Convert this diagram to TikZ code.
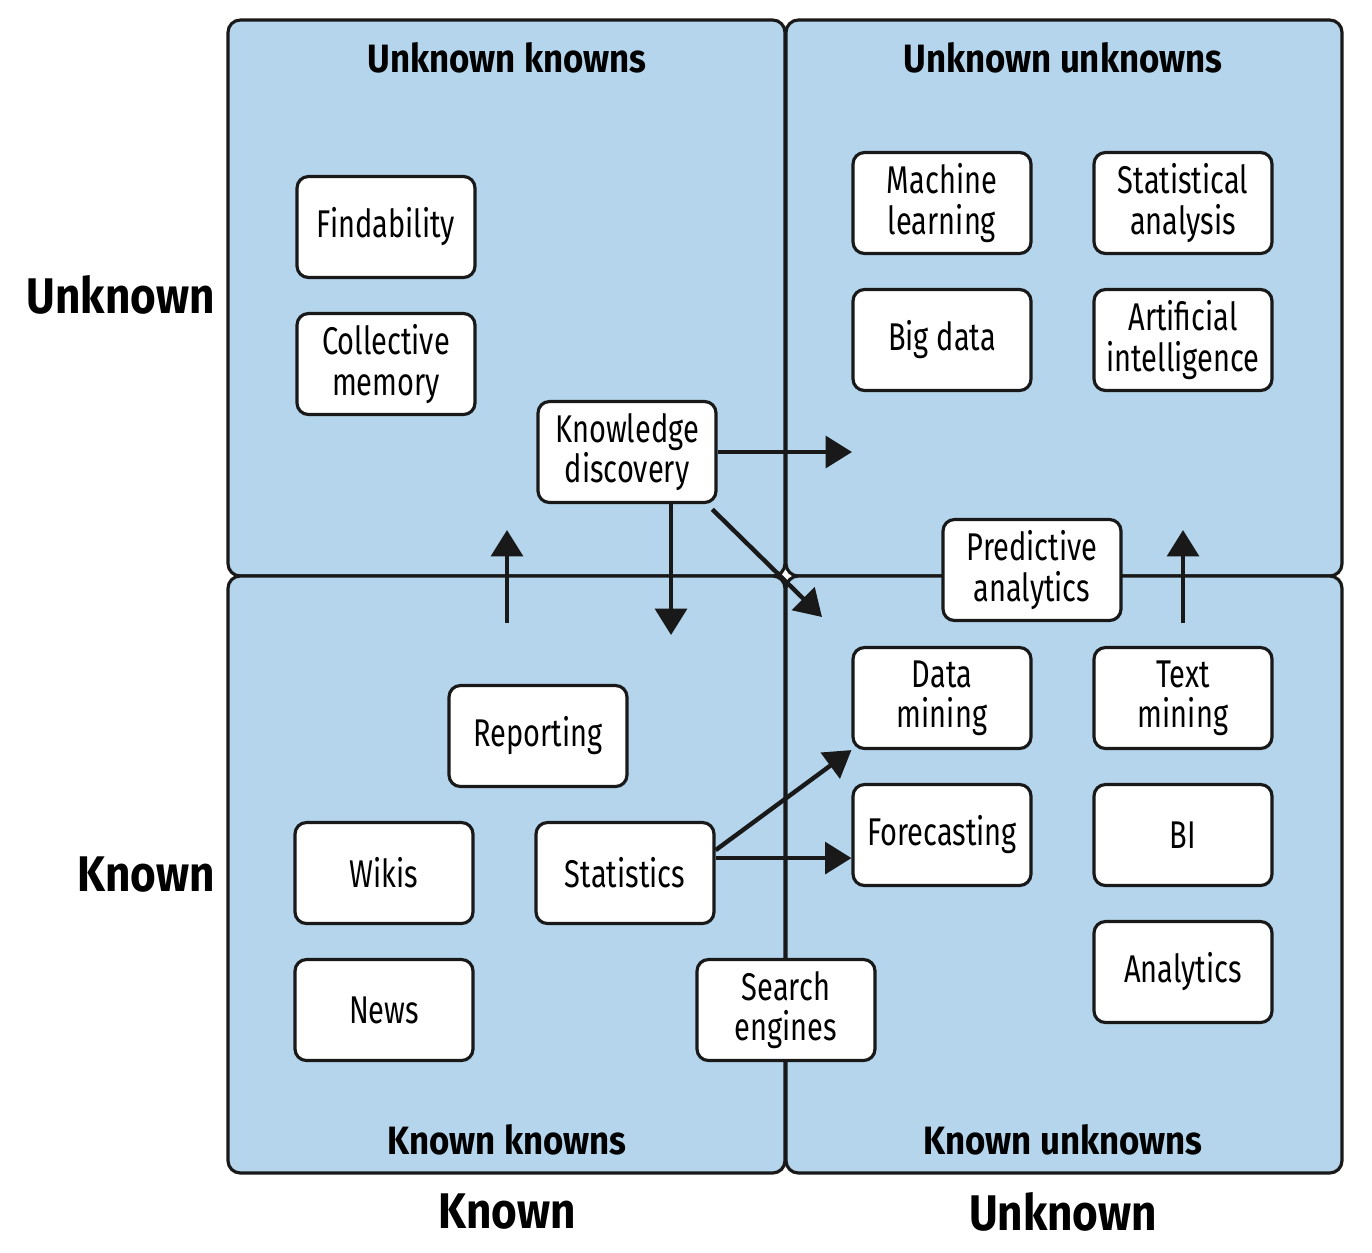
\documentclass[tikz,border=0pt]{standalone}
\usepackage{fontspec}
\setmainfont{Fira Sans}[FakeStretch=0.75]
\newfontfamily\headfont{Fira Sans}[FakeStretch=0.88]
\usetikzlibrary{arrows.meta}
\definecolor{panelblue}{RGB}{180,213,236}
\definecolor{edge}{RGB}{25,25,25}

\begin{document}
\begin{tikzpicture}[x = 0.02cm, y = -0.02cm,
		panel/.style = {draw = edge, line width = 1.8pt, fill = panelblue, rounded corners = 7pt},
		item/.style = {draw = edge, line width = 1.8pt, fill = white, rounded corners = 6.5pt,
			minimum width = 3.56cm, minimum height = 2.02cm, align = center, inner sep = 0pt,
			font = \fontsize{22}{23}\selectfont},
		title/.style = {font = \headfont\bfseries\fontsize{22.5}{25}\selectfont},
		axis/.style = {font = \headfont\bfseries\fontsize{28.5}{32}\selectfont, inner sep = 0pt},
		arr/.style = {draw = edge, line width = 2.5pt, -{Triangle[length = 15pt, width = 18pt]}}]
	\useasboundingbox (0, 0) rectangle (1372, 1252);
	% quadrants
	\draw[panel] (228, 20) rectangle (785, 576);
	\draw[panel] (786, 20) rectangle (1342, 576);
	\draw[panel] (228, 576) rectangle (785, 1173);
	\draw[panel] (786, 576) rectangle (1342, 1173);
		\node[title] (tUK) at (507, 58) {Unknown knowns};
		\node[title] (tUU) at (1063, 58) {Unknown unknowns};
		\node[title] (tKK) at (507, 1140) {Known knowns};
		\node[title] (tKU) at (1063, 1140) {Known unknowns};
	% axes
	\node[axis, anchor = east] (yUnknown) at (215, 295) {Unknown};
	\node[axis, anchor = east] (yKnown) at (215, 875) {Known};
	\node[axis] (xKnown) at (507, 1212) {Known};
	\node[axis] (xUnknown) at (1063, 1212) {Unknown};
	% free arrows
	\coordinate (upL0) at (507, 623);
	\coordinate (upL1) at (507, 530);
	\coordinate (upR0) at (1183, 623);
	\coordinate (upR1) at (1183, 530);
	\draw[arr] (upL0) -- (upL1);
	\draw[arr] (upR0) -- (upR1);
	% boxes
	\node[item] (find) at (386, 227) {Findability};
	\node[item] (memory) at (386, 364) {Collective\\memory};
	\node[item] (kd) at (627, 452) {Knowledge\\discovery};
	\node[item] (ml) at (942, 203) {Machine\\learning};
	\node[item] (sa) at (1183, 203) {Statistical\\analysis};
	\node[item] (bigdata) at (942, 340) {Big data};
	\node[item] (ai) at (1183, 340) {Artificial\\intelligence};
	\node[item] (pa) at (1032, 570) {Predictive\\analytics};
	\node[item] (dm) at (942, 698) {Data\\mining};
	\node[item] (tm) at (1183, 698) {Text\\mining};
	\node[item] (fc) at (942, 835) {Forecasting};
	\node[item] (bi) at (1183, 835) {BI};
	\node[item] (analytics) at (1183, 972) {Analytics};
	\node[item] (reporting) at (538, 736) {Reporting};
	\node[item] (wikis) at (384, 873) {Wikis};
	\node[item] (st) at (625, 873) {Statistics};
	\node[item] (news) at (384, 1010) {News};
	\node[item] (search) at (786, 1010) {Search\\engines};
	% arrows from knowledge discovery
	\coordinate (kdR) at (852, 452);
	\coordinate (kdD) at (671, 635);
	\coordinate (kdSE) at (822, 617);
	\draw[arr] (kd.east) -- (kdR);
	\draw[arr] (kdD |- kd.south) -- (kdD);
	\draw[arr] ([shift = {(-3pt, -3pt)}]kd.south east) -- (kdSE);
	% arrows from statistics
	\draw[arr] ([yshift = 13pt]st.east) -- (dm.south west);
	\draw[arr] ([yshift = 8.5pt]st.east) -- ([yshift = 8.5pt]st.east -| fc.west);
\end{tikzpicture}
\end{document}
